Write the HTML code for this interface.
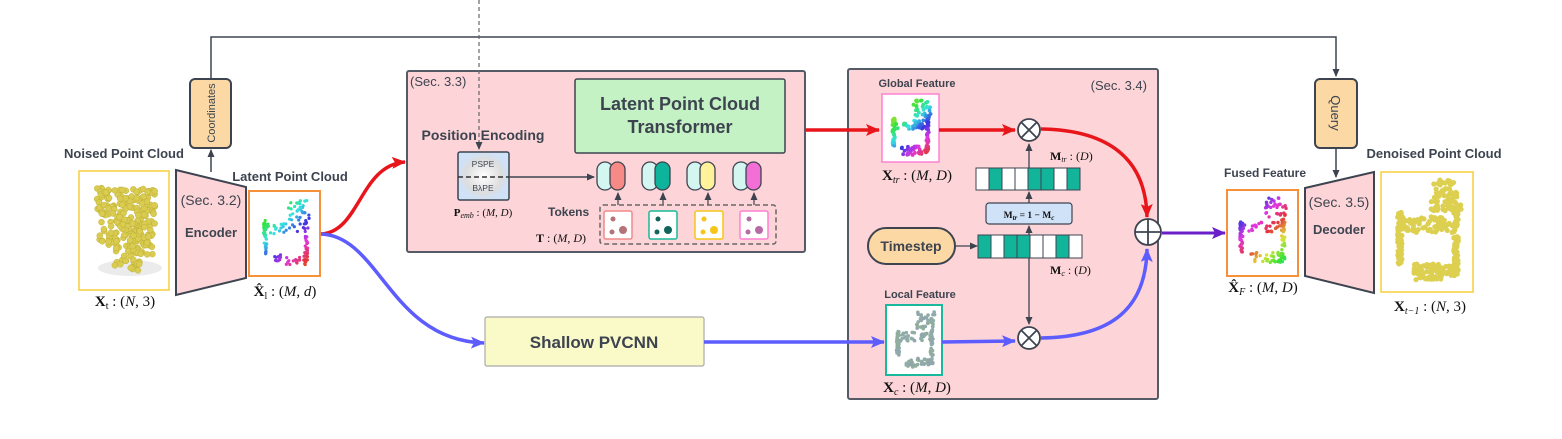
<!DOCTYPE html>
<html><head><meta charset="utf-8"><style>
html,body{margin:0;padding:0;background:#fff}
svg{display:block}
text{font-family:"Liberation Sans",sans-serif}
.b{font-weight:bold;fill:#3d4450}
.m{font-family:"Liberation Serif",serif;fill:#111}
</style></head><body>
<svg id="s" width="1562" height="439" viewBox="0 0 1562 439" xmlns="http://www.w3.org/2000/svg">
<defs>
<marker id="ag" markerWidth="8" markerHeight="8" refX="7" refY="4" orient="auto" markerUnits="userSpaceOnUse"><path d="M0,0.5 L8,4 L0,7.5 Z" fill="#3d4450"/></marker>
<marker id="ar" markerWidth="14" markerHeight="12" refX="13" refY="6" orient="auto" markerUnits="userSpaceOnUse"><path d="M0,0 L14,6 L0,12 L3,6Z" fill="#e8151b"/></marker>
<marker id="ab" markerWidth="14" markerHeight="12" refX="13" refY="6" orient="auto" markerUnits="userSpaceOnUse"><path d="M0,0 L14,6 L0,12 L3,6Z" fill="#5d5cff"/></marker>
<marker id="ap" markerWidth="14" markerHeight="12" refX="13" refY="6" orient="auto" markerUnits="userSpaceOnUse"><path d="M0,0 L14,6 L0,12 L3,6Z" fill="#6a1fc9"/></marker>
<radialGradient id="rg"><stop offset="0" stop-color="#fff"/><stop offset="0.7" stop-color="#ddd"/><stop offset="1" stop-color="#cfe2f8"/></radialGradient>
</defs>

<path d="M211,78 V37 H1336 V76" fill="none" stroke="#3d4450" stroke-width="1.5" marker-end="url(#ag)"/>
<line x1="211" y1="172" x2="211" y2="150" stroke="#3d4450" stroke-width="1.5" marker-end="url(#ag)"/>
<rect x="190" y="79" width="41" height="69" rx="5" fill="#fcd9a4" stroke="#3d4450" stroke-width="2"/>
<text transform="translate(215,113) rotate(-90)" font-size="11" fill="#3d4450" text-anchor="middle">Coordinates</text>
<line x1="1336" y1="148" x2="1336" y2="177" stroke="#3d4450" stroke-width="1.5" marker-end="url(#ag)"/>
<rect x="1315" y="79" width="42" height="69" rx="5" fill="#fcd9a4" stroke="#3d4450" stroke-width="2"/>
<text transform="translate(1331,113) rotate(90)" font-size="13" fill="#3d4450" text-anchor="middle">Query</text>

<text x="124" y="158" class="b" font-size="13" text-anchor="middle">Noised Point Cloud</text>
<rect x="79" y="171" width="90" height="119" fill="#fff" stroke="#f5cf3a" stroke-width="1.5"/>
<g id="pc1"></g>
<text x="125" y="306" class="m" font-size="15" text-anchor="middle"><tspan font-weight="bold">X</tspan><tspan font-size="10" dy="3">t</tspan><tspan dy="-3"> : (</tspan><tspan font-style="italic">N</tspan>, 3)</text>
<path d="M176,170 L246,187 L246,278 L176,295 Z" fill="#fdd5d8" stroke="#3d4450" stroke-width="2"/>
<text x="211" y="205" font-size="14" fill="#3d4450" text-anchor="middle">(Sec. 3.2)</text>
<text x="211" y="237" class="b" font-size="13" text-anchor="middle">Encoder</text>
<text x="290" y="181" class="b" font-size="13" text-anchor="middle">Latent Point Cloud</text>
<rect x="249" y="191" width="71" height="85" fill="#fff" stroke="#f7903a" stroke-width="2"/>
<g id="pc2"></g>
<text x="285" y="296" class="m" font-size="15" text-anchor="middle"><tspan font-weight="bold">X̂</tspan><tspan font-size="10" dy="3">l</tspan><tspan dy="-3"> : (</tspan><tspan font-style="italic">M</tspan>, <tspan font-style="italic">d</tspan>)</text>

<path d="M321,234 C360,232 360,165 405,162" fill="none" stroke="#e8151b" stroke-width="3.5" marker-end="url(#ar)"/>
<path d="M321,234 C380,236 390,340 484,343" fill="none" stroke="#5d5cff" stroke-width="3.5" marker-end="url(#ab)"/>

<rect x="407" y="71" width="398" height="181" rx="2" fill="#fdd5d8" stroke="#555b66" stroke-width="2"/>
<text x="410" y="86" font-size="13" fill="#3d4450">(Sec. 3.3)</text>
<rect x="575" y="79" width="210" height="74" rx="2" fill="#c4f2c4" stroke="#3d4450" stroke-width="1.5"/>
<text x="680" y="110" class="b" font-size="18" text-anchor="middle">Latent Point Cloud</text>
<text x="680" y="133" class="b" font-size="18" text-anchor="middle">Transformer</text>
<text x="483" y="140" class="b" font-size="14" text-anchor="middle">Position Encoding</text>
<line x1="479" y1="0" x2="479" y2="149" stroke="#666" stroke-width="1.2" stroke-dasharray="4,3" marker-end="url(#ag)"/>
<rect x="458" y="152" width="51" height="48" rx="2" fill="url(#rg)" stroke="#3d4450" stroke-width="1.5"/>
<line x1="458" y1="177" x2="509" y2="177" stroke="#333" stroke-width="1.5" stroke-dasharray="5,3"/>
<text x="483" y="167" font-size="8.5" fill="#3d4450" text-anchor="middle">PSPE</text>
<text x="483" y="191" font-size="8.5" fill="#3d4450" text-anchor="middle">BλPE</text>
<line x1="509" y1="177" x2="594" y2="177" stroke="#3d4450" stroke-width="1.5" marker-end="url(#ag)"/>
<text x="483" y="216" class="m" font-size="11" text-anchor="middle"><tspan font-weight="bold">P</tspan><tspan font-size="8" dy="2" font-style="italic">emb</tspan><tspan dy="-2"> : (</tspan><tspan font-style="italic">M</tspan>, <tspan font-style="italic">D</tspan>)</text>
<text x="548" y="216" class="b" font-size="12">Tokens</text>
<text x="536" y="242" class="m" font-size="12"><tspan font-weight="bold">T</tspan> : (<tspan font-style="italic">M</tspan>, <tspan font-style="italic">D</tspan>)</text>
<g id="tok"></g>
<rect x="600" y="205" width="176" height="39" rx="3" fill="none" stroke="#666" stroke-width="1.5" stroke-dasharray="5,3"/>

<rect x="485" y="317" width="219" height="49" rx="2" fill="#fafac9" stroke="#aaa" stroke-width="1.2"/>
<text x="594" y="348" class="b" font-size="17" text-anchor="middle">Shallow PVCNN</text>

<rect x="848" y="69" width="310" height="330" rx="2" fill="#fdd5d8" stroke="#555b66" stroke-width="2"/>
<line x1="805" y1="130" x2="879" y2="130" stroke="#e8151b" stroke-width="3.5" marker-end="url(#ar)"/>
<line x1="704" y1="342" x2="884" y2="342" stroke="#5d5cff" stroke-width="3.5" marker-end="url(#ab)"/>
<text x="1147" y="90" font-size="13" fill="#3d4450" text-anchor="end">(Sec. 3.4)</text>
<text x="917" y="87" class="b" font-size="11" text-anchor="middle">Global Feature</text>
<rect x="882" y="94" width="57" height="68" fill="#fff" stroke="#ff80d4" stroke-width="1.5"/>
<g id="pc3"></g>
<text x="917" y="180" class="m" font-size="15" text-anchor="middle"><tspan font-weight="bold">X</tspan><tspan font-size="10" dy="3" font-style="italic">tr</tspan><tspan dy="-3"> : (</tspan><tspan font-style="italic">M</tspan>, <tspan font-style="italic">D</tspan>)</text>
<line x1="939" y1="130" x2="1015" y2="130" stroke="#e8151b" stroke-width="3.5" marker-end="url(#ar)"/>
<path d="M1041,129 C1110,130 1146,160 1147,217" fill="none" stroke="#e8151b" stroke-width="3.5" marker-end="url(#ar)"/>
<text x="920" y="298" class="b" font-size="11" text-anchor="middle">Local Feature</text>
<rect x="886" y="305" width="56" height="70" fill="#fff" stroke="#1ab89c" stroke-width="2"/>
<g id="pc4"></g>
<text x="917" y="392" class="m" font-size="15" text-anchor="middle"><tspan font-weight="bold">X</tspan><tspan font-size="10" dy="3" font-style="italic">c</tspan><tspan dy="-3"> : (</tspan><tspan font-style="italic">M</tspan>, <tspan font-style="italic">D</tspan>)</text>
<line x1="942" y1="342" x2="1015" y2="341" stroke="#5d5cff" stroke-width="3.5" marker-end="url(#ab)"/>
<path d="M1041,338 C1110,337 1146,310 1147,249" fill="none" stroke="#5d5cff" stroke-width="3.5" marker-end="url(#ab)"/>
<line x1="1029" y1="168" x2="1029" y2="144" stroke="#3d4450" stroke-width="1.3" marker-end="url(#ag)"/>
<line x1="1029" y1="203" x2="1029" y2="192" stroke="#3d4450" stroke-width="1.3" marker-end="url(#ag)"/>
<line x1="1029" y1="235" x2="1029" y2="226" stroke="#3d4450" stroke-width="1.3" marker-end="url(#ag)"/>
<line x1="1029" y1="258" x2="1029" y2="324" stroke="#3d4450" stroke-width="1.3" marker-end="url(#ag)"/>
<g id="bars"></g>
<rect x="986" y="203" width="86" height="21" rx="3" fill="#cfe2f8" stroke="#3d4450" stroke-width="1.2"/>
<text x="1029" y="218" class="m" font-size="9.5" text-anchor="middle" font-weight="bold">M<tspan font-size="7" dy="2" font-style="italic">tr</tspan><tspan dy="-2"> = 1 − M</tspan><tspan font-size="7" dy="2" font-style="italic">c</tspan></text>
<text x="1050" y="160" class="m" font-size="12"><tspan font-weight="bold">M</tspan><tspan font-size="8" dy="2" font-style="italic">tr</tspan><tspan dy="-2"> : (</tspan><tspan font-style="italic">D</tspan>)</text>
<text x="1050" y="274" class="m" font-size="12"><tspan font-weight="bold">M</tspan><tspan font-size="8" dy="2" font-style="italic">c</tspan><tspan dy="-2"> : (</tspan><tspan font-style="italic">D</tspan>)</text>
<rect x="868" y="228" width="87" height="36" rx="18" fill="#fcd9a4" stroke="#3d4450" stroke-width="2"/>
<text x="911" y="251" class="b" font-size="14" text-anchor="middle">Timestep</text>
<line x1="955" y1="246" x2="977" y2="246" stroke="#3d4450" stroke-width="1.3" marker-end="url(#ag)"/>
<g fill="#fff" stroke="#3d4450" stroke-width="1.8">
<circle cx="1029" cy="130" r="11"/><circle cx="1029" cy="338" r="11"/><circle cx="1148" cy="232" r="13"/>
</g>
<g stroke="#3d4450" stroke-width="1.8">
<line x1="1021" y1="122" x2="1037" y2="138"/><line x1="1037" y1="122" x2="1021" y2="138"/>
<line x1="1021" y1="330" x2="1037" y2="346"/><line x1="1037" y1="330" x2="1021" y2="346"/>
<line x1="1135" y1="232" x2="1161" y2="232"/><line x1="1148" y1="219" x2="1148" y2="245"/>
</g>
<line x1="1162" y1="233" x2="1225" y2="233" stroke="#6a1fc9" stroke-width="3" marker-end="url(#ap)"/>

<text x="1265" y="177" class="b" font-size="12" text-anchor="middle">Fused Feature</text>
<rect x="1227" y="190" width="71" height="86" fill="#fff" stroke="#f7903a" stroke-width="2"/>
<g id="pc5"></g>
<text x="1263" y="292" class="m" font-size="15" text-anchor="middle"><tspan font-weight="bold">X̂</tspan><tspan font-size="10" dy="3" font-style="italic">F</tspan><tspan dy="-3"> : (</tspan><tspan font-style="italic">M</tspan>, <tspan font-style="italic">D</tspan>)</text>
<path d="M1305,188 L1374,172 L1374,293 L1305,276 Z" fill="#fdd5d8" stroke="#3d4450" stroke-width="2"/>
<text x="1339" y="207" font-size="14" fill="#3d4450" text-anchor="middle">(Sec. 3.5)</text>
<text x="1339" y="234" class="b" font-size="13" text-anchor="middle">Decoder</text>
<text x="1434" y="158" class="b" font-size="13" text-anchor="middle">Denoised Point Cloud</text>
<rect x="1381" y="172" width="92" height="120" fill="#fff" stroke="#f5cf3a" stroke-width="1.5"/>
<g id="pc6"></g>
<text x="1430" y="311" class="m" font-size="15" text-anchor="middle"><tspan font-weight="bold">X</tspan><tspan font-size="10" dy="3" font-style="italic">t−1</tspan><tspan dy="-3"> : (</tspan><tspan font-style="italic">N</tspan>, 3)</text>
</svg>
<script>
(function(){
var NS="http://www.w3.org/2000/svg";
function el(p,t,a){var e=document.createElementNS(NS,t);for(var k in a)e.setAttribute(k,a[k]);document.getElementById(p).appendChild(e);return e;}
var seed=7;function r(){seed=(seed*16807)%2147483647;return (seed-1)/2147483646;}
el("pc1","ellipse",{cx:130,cy:268,rx:32,ry:8,fill:"#ddd",opacity:0.6});
for(var i=0;i<300;i++){var x=97+r()*58,y=188+r()*84;if(y>245&&x<112)continue;if(y>255&&x>140)continue;el("pc1","circle",{cx:x,cy:y,r:3,fill:"#d9cc50",stroke:"#b8a830","stroke-width":0.4});}
function chair(id,x0,y0,w,h,col,n,rad){
 for(var i=0;i<n;i++){var t=r(),s=r(),x,y,k=i%5;
  if(k==0){x=x0+w*0.55+w*0.4*s;y=y0+h*0.3*t;}
  else if(k==1){x=x0+w*(0.1+0.8*t);y=y0+h*(0.35+0.15*s);}
  else if(k==2){x=x0+w*0.1+w*0.06*s;y=y0+h*(0.3+0.5*t);}
  else if(k==3){x=x0+w*0.85+w*0.06*s;y=y0+h*(0.3+0.6*t);}
  else {x=x0+w*(0.3+0.6*t);y=y0+h*(0.8+0.15*s);}
  el(id,"circle",{cx:x,cy:y,r:rad,fill:col(x,y)});}
}
function hue(a,b){return function(x,y){return "hsl("+Math.floor((a+((x+y)*b))%360)+",75%,55%)";};}
chair("pc2",258,200,55,68,hue(100,3),150,1.6);
chair("pc3",888,100,45,58,hue(0,4),170,1.9);
chair("pc4",892,312,45,58,function(){return "hsl("+Math.floor(140+r()*60)+",15%,62%)";},160,1.8);
chair("pc5",1234,198,56,68,hue(180,3),160,1.7);
chair("pc6",1390,180,75,105,function(){return "#ddd050";},380,2.6);
var tc=["#f78a86","#0db39b","#fff29a","#f36fd6"],ts=["#f08a8a","#1ab89c","#f7c518","#ff80d4"],dots=["#b57278","#10665a","#f7c518","#b86aa5"];
[597,642,687,733].forEach(function(x,i){
 el("tok","rect",{x:x,y:162,width:16,height:28,rx:8,fill:"#d4f6f0",stroke:"#3d4450","stroke-width":1.3});
 el("tok","rect",{x:x+13,y:162,width:15,height:28,rx:7.5,fill:tc[i],stroke:"#3d4450","stroke-width":1.3});
 el("tok","line",{x1:x+21,y1:205,x2:x+21,y2:193,stroke:"#3d4450","stroke-width":1.2,"marker-end":"url(#ag)"});
 var bx=[604,649,695,740][i];
 el("tok","rect",{x:bx,y:211,width:28,height:28,rx:2,fill:"#fff",stroke:ts[i],"stroke-width":1.5});
 el("tok","circle",{cx:bx+9,cy:219,r:2.5,fill:dots[i]});
 el("tok","circle",{cx:bx+19,cy:230,r:4,fill:dots[i]});
 el("tok","circle",{cx:bx+8,cy:232,r:2.5,fill:dots[i]});
});
var tb=[0,1,0,0,1,1,0,1],bb=[1,0,1,1,0,0,1,0];
for(var j=0;j<8;j++){
 el("bars","rect",{x:976+j*13,y:168,width:13,height:22,fill:tb[j]?"#12b59a":"#fff",stroke:"#3d4450","stroke-width":1});
 el("bars","rect",{x:978+j*13,y:235,width:13,height:23,fill:bb[j]?"#12b59a":"#fff",stroke:"#3d4450","stroke-width":1});
}
})();
</script>
</body></html>
